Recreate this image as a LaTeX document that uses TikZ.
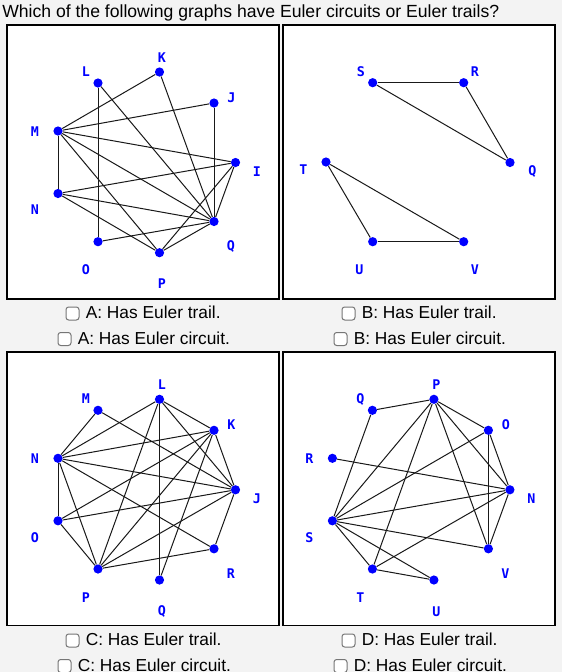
\documentclass[tikz,border=0pt]{standalone}
\usepackage{fontspec}
\setmainfont{Liberation Sans}
\newfontfamily\lblfont{DejaVu Sans Mono}
\definecolor{bgc}{RGB}{243,243,243}
\definecolor{vblue}{RGB}{0,0,255}
\definecolor{edgec}{RGB}{25,25,25}
\definecolor{cbgray}{RGB}{118,118,118}
\tikzset{
  vtx/.style={circle,fill=vblue,inner sep=0pt,minimum size=6.9pt},
  lbl/.style={text=vblue,font=\lblfont\bfseries\fontsize{10}{11}\selectfont,inner sep=0pt},
  edg/.style={draw=edgec,line width=0.75pt},
  panel/.style={draw=black,line width=1.1pt,fill=white},
  cbox/.style={draw=cbgray,fill=white,rounded corners=2pt,line width=0.75pt,minimum size=9.75pt,inner sep=0pt},
  opt/.style={anchor=base west,inner sep=0pt,font=\fontsize{13}{15}\selectfont}
}
\begin{document}
\begin{tikzpicture}[x=0.75pt,y=-0.75pt]
\useasboundingbox (0,0) rectangle (562,672);
\fill[bgc] (0,0) rectangle (562,672);
\node[anchor=base west,inner sep=0pt,font=\fontsize{13.2}{15}\selectfont] (title) at (2,17.5) {Which of the following graphs have Euler circuits or Euler trails?};
% panels
\filldraw[panel] (7,25) rectangle (279,299);
\filldraw[panel] (283,25) rectangle (555,299);
\filldraw[panel] (7,352) rectangle (279,625.5);
\filldraw[panel] (283,352) rectangle (555,625.5);
% ---------- Graph A ----------
\node[vtx] (aI) at (235.5,162.5) {};
\node[vtx] (aJ) at (214,103) {};
\node[vtx] (aK) at (159.5,72) {};
\node[vtx] (aL) at (98,83) {};
\node[vtx] (aM) at (58,131) {};
\node[vtx] (aN) at (58,193.5) {};
\node[vtx] (aO) at (98,241.7) {};
\node[vtx] (aP) at (159.5,252.7) {};
\node[vtx] (aQ) at (214,221.5) {};
\node[lbl] (laI) at (257,171.5) {I};
\node[lbl] (laJ) at (231.5,97.3) {J};
\node[lbl] (laK) at (162,57.7) {K};
\node[lbl] (laL) at (86,71.7) {L};
\node[lbl] (laM) at (35,131.7) {M};
\node[lbl] (laN) at (35,210) {N};
\node[lbl] (laO) at (86,270) {O};
\node[lbl] (laP) at (162,284) {P};
\node[lbl] (laQ) at (231,246) {Q};
\foreach \u/\v in {L/O,K/M,K/Q,L/Q,J/M,J/Q,M/I,M/Q,M/P,M/N,N/I,N/Q,N/P,O/Q,I/Q,I/P,P/Q}
  \draw[edg] (a\u) -- (a\v);
% ---------- Graph B ----------
\node[vtx] (bS) at (372.7,82.7) {};
\node[vtx] (bR) at (463.7,82.7) {};
\node[vtx] (bQ) at (510,162.5) {};
\node[vtx] (bT) at (326,162) {};
\node[vtx] (bU) at (372.7,241.7) {};
\node[vtx] (bV) at (463.7,241.7) {};
\node[lbl] (lbS) at (361,71.7) {S};
\node[lbl] (lbR) at (475,71.7) {R};
\node[lbl] (lbQ) at (532.3,171.7) {Q};
\node[lbl] (lbT) at (303.3,170) {T};
\node[lbl] (lbU) at (359.3,270) {U};
\node[lbl] (lbV) at (475,270) {V};
\foreach \u/\v in {S/R,S/Q,R/Q,T/U,T/V,U/V}
  \draw[edg] (b\u) -- (b\v);
% ---------- Graph C ----------
\node[vtx] (cJ) at (235.5,489.8) {};
\node[vtx] (cK) at (214,430.3) {};
\node[vtx] (cL) at (159.5,399.3) {};
\node[vtx] (cM) at (98,410.3) {};
\node[vtx] (cN) at (58,458.3) {};
\node[vtx] (cO) at (58,520.8) {};
\node[vtx] (cP) at (98,569) {};
\node[vtx] (cQ) at (159.5,580) {};
\node[vtx] (cR) at (214,548.8) {};
\node[lbl] (lcJ) at (257,498.8) {J};
\node[lbl] (lcK) at (231.5,424.6) {K};
\node[lbl] (lcL) at (162,385) {L};
\node[lbl] (lcM) at (86,399) {M};
\node[lbl] (lcN) at (35,459) {N};
\node[lbl] (lcO) at (35,537.3) {O};
\node[lbl] (lcP) at (86,597.3) {P};
\node[lbl] (lcQ) at (162,611.3) {Q};
\node[lbl] (lcR) at (231,573.3) {R};
\foreach \u/\v in {L/N,L/P,L/Q,L/K,L/J,M/N,M/J,K/N,K/O,K/P,K/Q,K/J,N/J,N/R,N/O,N/P,J/O,J/P,J/R,O/P,P/R}
  \draw[edg] (c\u) -- (c\v);
% ---------- Graph D ----------
\node[vtx] (dN) at (509.9,489.8) {};
\node[vtx] (dO) at (488.4,430.3) {};
\node[vtx] (dP) at (433.9,399.3) {};
\node[vtx] (dQ) at (372.4,410.3) {};
\node[vtx] (dR) at (332.4,458.3) {};
\node[vtx] (dS) at (332.4,520.8) {};
\node[vtx] (dT) at (372.4,569) {};
\node[vtx] (dU) at (433.9,580) {};
\node[vtx] (dV) at (488.4,548.8) {};
\node[lbl] (ldN) at (531.4,498.8) {N};
\node[lbl] (ldO) at (505.9,424.6) {O};
\node[lbl] (ldP) at (436.4,385) {P};
\node[lbl] (ldQ) at (360.4,399) {Q};
\node[lbl] (ldR) at (309.4,459) {R};
\node[lbl] (ldS) at (309.4,537.3) {S};
\node[lbl] (ldT) at (360.4,597.3) {T};
\node[lbl] (ldU) at (436.4,611.3) {U};
\node[lbl] (ldV) at (505.4,573.3) {V};
\foreach \u/\v in {Q/P,Q/S,P/O,P/N,P/V,P/T,P/S,O/N,O/V,O/S,R/N,N/S,N/T,N/V,S/V,S/T,S/U,T/U}
  \draw[edg] (d\u) -- (d\v);
% ---------- options ----------
\node[cbox] (cbA1) at (72.5,313.5) {};
\node[opt] (tA1) at (85.5,318.5) {A: Has Euler trail.};
\node[cbox] (cbA2) at (64.5,339) {};
\node[opt] (tA2) at (77.5,344) {A: Has Euler circuit.};
\node[cbox] (cbB1) at (348.5,313.5) {};
\node[opt] (tB1) at (361.5,318.5) {B: Has Euler trail.};
\node[cbox] (cbB2) at (340.5,339) {};
\node[opt] (tB2) at (353.5,344) {B: Has Euler circuit.};
\node[cbox] (cbC1) at (72.5,640.5) {};
\node[opt] (tC1) at (85.5,645.5) {C: Has Euler trail.};
\node[cbox] (cbC2) at (64.5,666) {};
\node[opt] (tC2) at (77.5,671) {C: Has Euler circuit.};
\node[cbox] (cbD1) at (348.5,640.5) {};
\node[opt] (tD1) at (361.5,645.5) {D: Has Euler trail.};
\node[cbox] (cbD2) at (340.5,666) {};
\node[opt] (tD2) at (353.5,671) {D: Has Euler circuit.};
\end{tikzpicture}
\end{document}
